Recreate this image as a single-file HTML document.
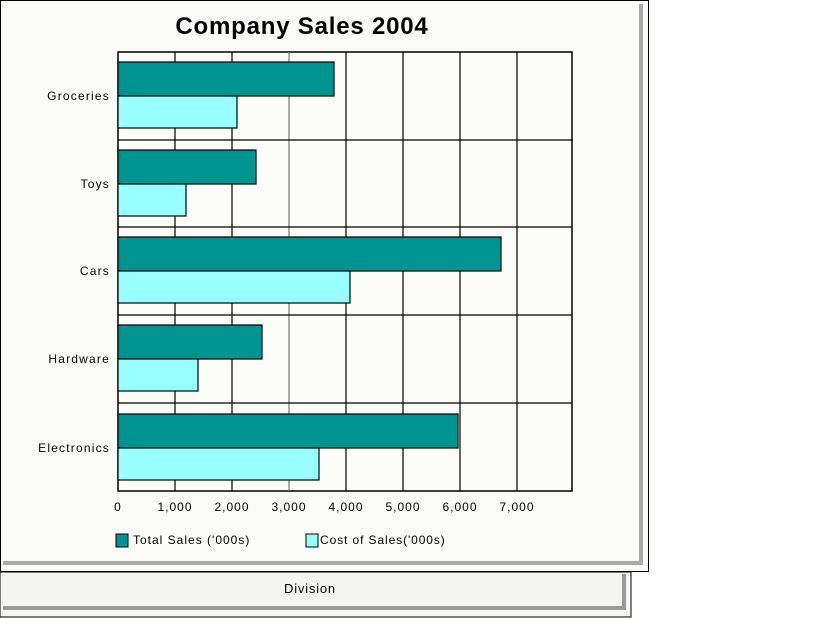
<!DOCTYPE html>
<html><head><style>
body{margin:0;background:#fff;width:819px;height:618px;overflow:hidden}
svg{display:block}
text{font-family:"Liberation Sans",sans-serif}
</style></head><body>
<svg width="819" height="618" xmlns="http://www.w3.org/2000/svg">
<rect x="0" y="572" width="631" height="45" fill="#f4f4f2" stroke="#000" stroke-width="1"/>
<rect x="3" y="606" width="622" height="4" fill="#999"/>
<rect x="622" y="574" width="4" height="36" fill="#999"/>
<text x="310" y="593" font-size="13" letter-spacing="0.8" text-anchor="middle">Division</text>
<rect x="0.5" y="0.5" width="648" height="571" fill="#fbfbf7" stroke="#000"/>
<rect x="3" y="561" width="639" height="4" fill="#aaa"/>
<rect x="639" y="4" width="4" height="561" fill="#aaa"/>
<text x="302" y="34" font-size="24" font-weight="bold" letter-spacing="0.8" text-anchor="middle">Company Sales 2004</text>
<rect x="118" y="52" width="454" height="439" fill="#fcfcf8" stroke="#000" stroke-width="1.5"/>
<g stroke="#000" stroke-width="1.2">
<line x1="175" y1="52" x2="175" y2="491"/><line x1="232" y1="52" x2="232" y2="491"/>
<line x1="289" y1="52" x2="289" y2="491" stroke="#777"/><line x1="346" y1="52" x2="346" y2="491"/>
<line x1="403" y1="52" x2="403" y2="491"/><line x1="460" y1="52" x2="460" y2="491"/>
<line x1="517" y1="52" x2="517" y2="491"/>
<line x1="118" y1="140" x2="572" y2="140"/><line x1="118" y1="227" x2="572" y2="227"/>
<line x1="118" y1="315" x2="572" y2="315"/><line x1="118" y1="403" x2="572" y2="403"/>
</g>
<g stroke="#000" stroke-width="1.2">
<rect x="118" y="62" width="216" height="34" fill="#009490"/>
<rect x="118" y="96" width="119" height="32" fill="#99ffff"/>
<rect x="118" y="150" width="138" height="34" fill="#009490"/>
<rect x="118" y="184" width="68" height="32" fill="#99ffff"/>
<rect x="118" y="237" width="383" height="34" fill="#009490"/>
<rect x="118" y="271" width="232" height="32" fill="#99ffff"/>
<rect x="118" y="325" width="144" height="34" fill="#009490"/>
<rect x="118" y="359" width="80" height="32" fill="#99ffff"/>
<rect x="118" y="414" width="340" height="34" fill="#009490"/>
<rect x="118" y="448" width="201" height="32" fill="#99ffff"/>
</g>
<g font-size="12" text-anchor="end" letter-spacing="1.2">
<text x="110" y="100">Groceries</text><text x="110" y="188">Toys</text>
<text x="110" y="275">Cars</text><text x="110" y="363">Hardware</text>
<text x="110" y="452">Electronics</text>
</g>
<g font-size="12" text-anchor="middle" letter-spacing="1">
<text x="118" y="511">0</text><text x="175" y="511">1,000</text><text x="232" y="511">2,000</text>
<text x="289" y="511">3,000</text><text x="346" y="511">4,000</text><text x="403" y="511">5,000</text>
<text x="460" y="511">6,000</text><text x="517" y="511">7,000</text>
</g>
<rect x="116" y="534" width="12" height="13" fill="#009490" stroke="#000"/>
<text x="133" y="544" font-size="12" letter-spacing="1">Total Sales ('000s)</text>
<rect x="306" y="534" width="12" height="13" fill="#99ffff" stroke="#000"/>
<text x="320" y="544" font-size="12" letter-spacing="0.9">Cost of Sales('000s)</text>
</svg>
</body></html>
